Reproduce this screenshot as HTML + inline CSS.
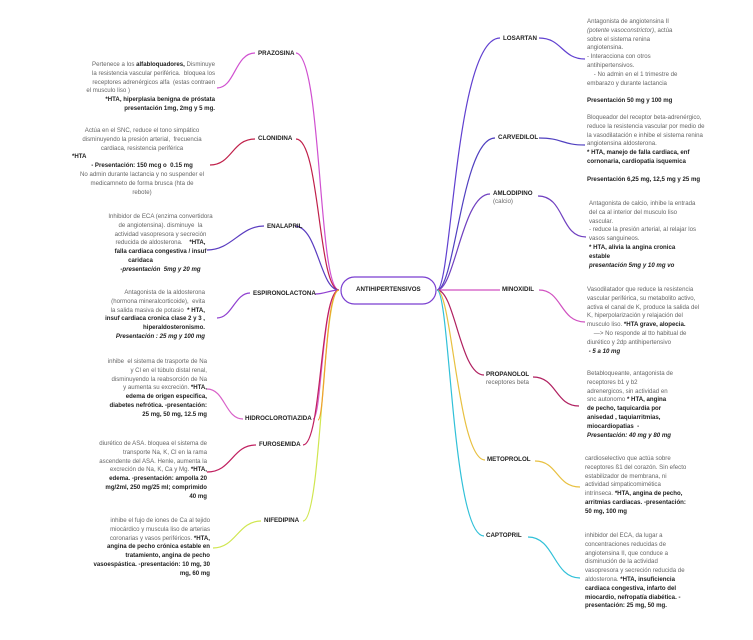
<!DOCTYPE html>
<html><head><meta charset="utf-8"><style>
body{margin:0;width:753px;height:640px;background:#fff;position:relative;overflow:hidden;font-family:"Liberation Sans",sans-serif}
.l{position:absolute;font-weight:bold;font-size:6.2px;color:#222;white-space:nowrap;line-height:8px}
.t{position:absolute;font-size:6.1px;line-height:8.8px;color:#666;white-space:nowrap}
.t b{color:#222}
.r{text-align:right}
.c{text-align:center}
.s{font-weight:normal;color:#666}
</style></head><body>
<svg width="753" height="640" style="position:absolute;left:0;top:0" fill="none" stroke-width="1.2">
<rect x="341" y="277" width="95" height="27" rx="13.5" stroke="#7a3fd0" fill="#fff"/>
<!-- left branches -->
<path d="M339,290 C318,290 322,55 296,53" stroke="#d050d0"/>
<path d="M339,290 C318,290 320,139 296,139" stroke="#c0204a"/>
<path d="M339,290 C320,290 318,227 295,226" stroke="#5a3cc0"/>
<path d="M339,290 C330,290 325,294 315,294" stroke="#9040d0"/>
<path d="M339,290 C322,290 322,419 313,419" stroke="#d860c8"/>
<path d="M339,290 C320,290 322,445 303,445" stroke="#c02060"/>
<path d="M339,290 C322,290 322,521 303,521" stroke="#d0e650"/>
<path d="M339,290 C325,290 325,420 318,420" stroke="#f0a030"/>
<!-- left text connectors -->
<path d="M255,53 C235,53 235,88 217,88" stroke="#d050d0"/>
<path d="M255,139 C232,139 232,165 210,165" stroke="#c0204a"/>
<path d="M264,226 C240,226 232,250 207,250" stroke="#5a3cc0"/>
<path d="M250,293 C235,293 232,318 217,318" stroke="#9040d0"/>
<path d="M243,419 C225,419 225,389 207,389" stroke="#d860c8"/>
<path d="M256,445 C232,445 232,472 207,472" stroke="#c02060"/>
<path d="M261,521 C238,521 236,548 213,548" stroke="#d0e650"/>
<!-- right branches -->
<path d="M437,290 C452,290 455,38 500,38" stroke="#6040d0"/>
<path d="M437,290 C455,290 462,138 495,138" stroke="#5040c0"/>
<path d="M437,290 C455,290 462,194 490,194" stroke="#7040c0"/>
<path d="M437,290 L500,290" stroke="#d050c0"/>
<path d="M437,290 C455,290 460,375 484,375" stroke="#b02060"/>
<path d="M437,290 C452,290 458,460 485,460" stroke="#e8c040"/>
<path d="M437,290 C450,290 452,536 484,536" stroke="#30c0d8"/>
<!-- right text connectors -->
<path d="M539,38 C562,38 562,59 585,59" stroke="#6040d0"/>
<path d="M539,138 C562,138 562,145 585,145" stroke="#5040c0"/>
<path d="M538,196 C565,196 560,237 586,237" stroke="#7040c0"/>
<path d="M539,290 C562,290 560,322 585,322" stroke="#d050c0"/>
<path d="M533,377 C557,377 555,406 579,406" stroke="#b02060"/>
<path d="M535,461 C558,461 556,487 580,487" stroke="#e8c040"/>
<path d="M528,537 C555,537 553,578 580,578" stroke="#30c0d8"/>
</svg>
<div class="l" style="left:356px;top:286px">ANTIHIPERTENSIVOS</div>

<div class="l" style="left:258px;top:50px">PRAZOSINA</div>
<div class="l" style="left:258px;top:135px">CLONIDINA</div>
<div class="l" style="left:267px;top:223px">ENALAPRIL</div>
<div class="l" style="left:253px;top:290px">ESPIRONOLACTONA</div>
<div class="l" style="left:245px;top:415px">HIDROCLOROTIAZIDA</div>
<div class="l" style="left:259px;top:441px">FUROSEMIDA</div>
<div class="l" style="left:264px;top:517px">NIFEDIPINA</div>

<div class="l" style="left:503px;top:35px">LOSARTAN</div>
<div class="l" style="left:498px;top:134px">CARVEDILOL</div>
<div class="l" style="left:493px;top:190px">AMLODIPINO<br><span class="s">(calcio)</span></div>
<div class="l" style="left:502px;top:286px">MINOXIDIL</div>
<div class="l" style="left:486px;top:371px">PROPANOLOL<br><span class="s">receptores beta</span></div>
<div class="l" style="left:487px;top:456px">METOPROLOL</div>
<div class="l" style="left:486px;top:532px">CAPTOPRIL</div>

<div class="t r" style="right:538px;top:61px">Pertenece a los <b>alfabloquadores,</b> Disminuye<br>la resistencia vascular periférica.&nbsp; bloquea los<br>receptores adrenérgicos alfa&nbsp; (estas contraen<br><span style="margin-right:85px">el musculo liso )</span><br><b>*HTA, hiperplasia benigna de próstata</b><br><b>presentación 1mg, 2mg y 5 mg.</b></div>
<div class="t c" style="left:72px;width:140px;top:127px">Actúa en el SNC, reduce el tono simpático<br>disminuyendo la presión arterial,&nbsp; frecuencia<br>cardiaca, resistencia periférica<br><b style="display:block;text-align:left">*HTA</b><b>- Presentación: 150 mcg o&nbsp; 0.15 mg</b><br>No admin durante lactancia y no suspender el<br>medicamneto de forma brusca (hta de<br>rebote)</div>
<div class="t c" style="left:108px;width:105px;top:213px">Inhibidor de ECA (enzima convertidora<br>de angiotensina). disminuye&nbsp; la<br>actividad vasopresora y secreción<br>reducida de aldosterona.&nbsp;&nbsp;&nbsp; <b>*HTA,</b><br><b>falla cardiaca congestiva / insuf</b><br><b style="margin-right:40px">caridaca</b><br><b><i>-presentación&nbsp; 5mg y 20 mg</i></b></div>
<div class="t r" style="right:548px;top:289px">Antagonista de la aldosterona<br>(hormona mineralcorticoide),&nbsp; evita<br>la salida masiva de potasio&nbsp; <b>* HTA,</b><br><b>insuf cardiaca cronica clase 2 y 3 ,</b><br><b>hiperaldosteronismo.</b><br><b><i>Presentación : 25 mg y 100 mg</i></b></div>
<div class="t r" style="right:546px;top:358px">inhibe&nbsp; el sistema de trasporte de Na<br>y Cl en el túbulo distal renal,<br>disminuyendo la reabsorción de Na<br>y aumenta su excreción. <b>*HTA,</b><br><b>edema de origen especifica,</b><br><b>diabetes nefrótica. -presentación:</b><br><b>25 mg, 50 mg, 12.5 mg</b></div>
<div class="t r" style="right:546px;top:440px">diurético de ASA. bloquea el sistema de<br>transporte Na, K, Cl en la rama<br>ascendente del ASA. Henle, aumenta la<br>excreción de Na, K, Ca y Mg. <b>*HTA,</b><br><b>edema. -presentación: ampolla 20</b><br><b>mg/2ml, 250 mg/25 ml; comprimido</b><br><b>40 mg</b></div>
<div class="t r" style="right:543px;top:517px">inhibe el fujo de iones de Ca al tejido<br>miocárdico y muscula liso de arterias<br>coronarias y vasos periféricos. <b>*HTA,</b><br><b>angina de pecho crónica estable en</b><br><b>tratamiento, angina de pecho</b><br><b>vasoespástica. -presentación: 10 mg, 30</b><br><b>mg, 60 mg</b></div>

<div class="t" style="left:587px;top:18px">Antagonista de angiotensina II<br><i>(potente vasoconstrictor)</i>, actúa<br>sobre el sistema renina<br>angiotensina.<br>- Interacciona con otros<br>antihipertensivos.<br>&nbsp;&nbsp;&nbsp; - No admin en el 1 trimestre de<br>embarazo y durante lactancia<br><br><b>Presentación 50 mg y 100 mg</b></div>
<div class="t" style="left:587px;top:114px">Bloqueador del receptor beta-adrenérgico,<br>reduce la resistencia vascular por medio de<br>la vasodilatación e inhibe el sistema renina<br>angiotensina aldosterona.<br><b>* HTA, manejo de falla cardiaca, enf</b><br><b>cornonaria, cardiopatia isquemica</b><br><br><b>Presentación 6,25 mg, 12,5 mg y 25 mg</b></div>
<div class="t" style="left:589px;top:200px">Antagonista de calcio, inhibe la entrada<br>del ca al interior del musculo liso<br>vascular.<br>- reduce la presión arterial, al relajar los<br>vasos sanguineos.<br><b>* HTA, alivia la angina cronica</b><br><b>estable</b><br><b><i>presentación 5mg y 10 mg vo</i></b></div>
<div class="t" style="left:587px;top:286px">Vasodilatador que reduce la resistencia<br>vascular periférica, su metabolito activo,<br>activa el canal de K, produce la salida del<br>K, hiperpolarización y relajación del<br>musculo liso. <b>*HTA grave, alopecia.</b><br>&nbsp;&nbsp;&nbsp; —&gt; No responde al tto habitual de<br>diurético y 2dp antihipertensivo<br><b><i>&nbsp;- 5 a 10 mg</i></b></div>
<div class="t" style="left:587px;top:370px">Betabloqueante, antagonista de<br>receptores b1 y b2<br>adrenergicos, sin actividad en<br>snc autonomo <b>* HTA, angina</b><br><b>de pecho, taquicardia por</b><br><b>anisedad , taquiarritmias,</b><br><b>miocardiopatias&nbsp; -</b><br><b><i>Presentación: 40 mg y 80 mg</i></b></div>
<div class="t" style="left:585px;top:455px">cardioselectivo que actúa sobre<br>receptores ß1 del corazón. Sin efecto<br>estabilizador de membrana, ni<br>actividad simpaticomimética<br>intrínseca. <b>*HTA, angina de pecho,</b><br><b>arritmias cardiacas. -presentación:</b><br><b>50 mg, 100 mg</b></div>
<div class="t" style="left:585px;top:532px">inhibidor del ECA, da lugar a<br>concentraciones reducidas de<br>angiotensina II, que conduce a<br>disminución de la actividad<br>vasopresora y secreción reducida de<br>aldosterona. <b>*HTA, insuficiencia</b><br><b>cardiaca congestiva, infarto del</b><br><b>miocardio, nefropatía diabética. -</b><br><b>presentación: 25 mg, 50 mg.</b></div>
</body></html>
